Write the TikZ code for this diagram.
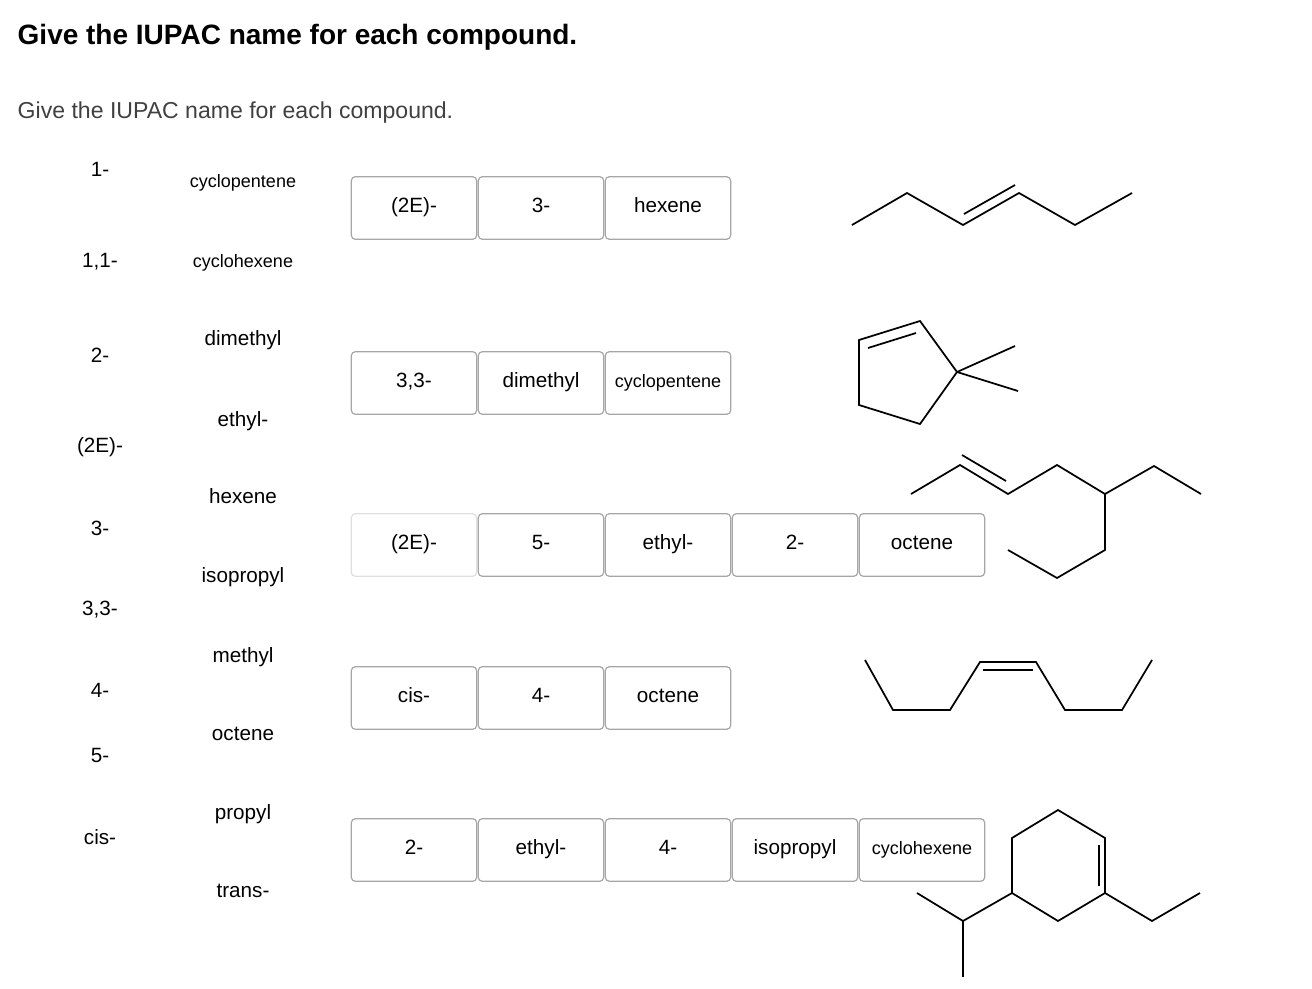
\documentclass[tikz,border=0pt]{standalone}
\usepackage{fontspec}
\setmainfont{Liberation Sans}
\begin{document}
\begin{tikzpicture}[x=0.75pt,y=-0.75pt,
    tile/.style={draw=gray!70,rounded corners=3pt,line width=0.9pt,minimum width=94pt,minimum height=47pt,inner sep=0pt,text height=1.5ex,text depth=.3ex,font=\fontsize{15.5}{18}\selectfont},
    word/.style={text height=1.5ex,text depth=.3ex,font=\fontsize{15.5}{18}\selectfont},
    bond/.style={line width=1.3pt}]
\useasboundingbox (0,0) rectangle (1312,988);

\node[anchor=west,font=\bfseries\fontsize{21}{25}\selectfont] (title) at (13,37) {Give the IUPAC name for each compound.};
\node[anchor=west,text=black!75,font=\fontsize{17.3}{20}\selectfont] (sub) at (13,113) {Give the IUPAC name for each compound.};

% word bank
\foreach \t/\y [count=\i] in {1-/172,{1,1-}/263,2-/358,(2E)-/448,3-/531,{3,3-}/611,4-/693,5-/758,cis-/840}
  \node[word] (pre\i) at (100,\y) {\t};
\node[word,font=\fontsize{13.5}{16}\selectfont] (bank1) at (243,183) {cyclopentene};
\node[word,font=\fontsize{13.5}{16}\selectfont] (bank2) at (243,263) {cyclohexene};
\foreach \t/\y [count=\i from 3] in {dimethyl/341,ethyl-/422,hexene/499,isopropyl/578,methyl/658,octene/736,propyl/815,trans-/893}
  \node[word] (bank\i) at (243,\y) {\t};

% answer tiles
\foreach \t [count=\i] in {(2E)-,3-,hexene}
  \node[tile] (a\i) at (414+127*\i-127,208) {\t};
\foreach \t [count=\i] in {{3,3-},dimethyl}
  \node[tile] (b\i) at (414+127*\i-127,383) {\t};
\node[tile,font=\fontsize{13.5}{16}\selectfont] (b3) at (668,383) {cyclopentene};
\node[tile,draw=gray!25] (c1) at (414,545) {(2E)-};
\foreach \t [count=\i from 2] in {5-,ethyl-,2-,octene}
  \node[tile] (c\i) at (414+127*\i-127,545) {\t};
\foreach \t [count=\i] in {cis-,4-,octene}
  \node[tile] (d\i) at (414+127*\i-127,698) {\t};
\foreach \t [count=\i] in {2-,ethyl-,4-,isopropyl}
  \node[tile] (e\i) at (414+127*\i-127,850) {\t};
\node[tile,font=\fontsize{13.5}{16}\selectfont] (e5) at (922,850) {cyclohexene};

% structures
\draw[bond] (852,225) -- (907,193) -- (963,225) -- (1019,193) -- (1075,225) -- (1132,193);
\draw[bond] (964,214) -- (1015,185);

\draw[bond] (859,340) -- (920,321) -- (957,372) -- (920,424) -- (859,405) -- cycle;
\draw[bond] (868,348) -- (916,333);
\draw[bond] (957,372) -- (1015,346);
\draw[bond] (957,372) -- (1018,391);

\draw[bond] (911,494) -- (960,465) -- (1008,494) -- (1057,465) -- (1105,494) -- (1154,466) -- (1201,494);
\draw[bond] (962,455) -- (1006,481);
\draw[bond] (1105,494) -- (1105,550) -- (1057,578) -- (1008,550);

\draw[bond] (865,660) -- (893,710) -- (950,710) -- (980,662) -- (1036,662) -- (1065,710) -- (1122,710) -- (1152,660);
\draw[bond] (983,670) -- (1033,670);

\draw[bond] (1012,838) -- (1058,810) -- (1105,838) -- (1105,893) -- (1058,921) -- (1012,893) -- cycle;
\draw[bond] (1099,845) -- (1099,886);
\draw[bond] (1012,893) -- (963,921) -- (917,893);
\draw[bond] (963,921) -- (963,977);
\draw[bond] (1105,893) -- (1152,921) -- (1200,893);
\end{tikzpicture}
\end{document}
